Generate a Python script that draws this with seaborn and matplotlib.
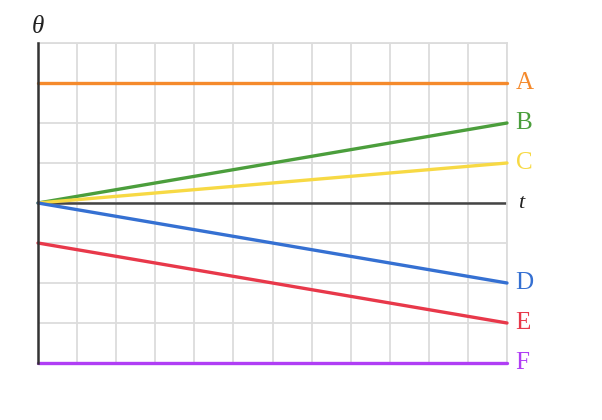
import numpy as np
import pandas as pd
import matplotlib
matplotlib.use('Agg')
import matplotlib.pyplot as plt
import seaborn as sns

# Time span and the start/end angle of each line
t_span = [0, 12]
names = ['A', 'B', 'C', 'D', 'E', 'F']
theta_start = [3, 0, 0, 0, -1, -4]
theta_end = [3, 2, 1, -2, -3, -4]
colors = ['#f58a2c', '#4b9e3c', '#f7d944', '#3570d2', '#e8384a', '#b03ef5']

rows = []
for name, a, b in zip(names, theta_start, theta_end):
    rows.append({'t': t_span[0], 'theta': a, 'name': name})
    rows.append({'t': t_span[1], 'theta': b, 'name': name})
df = pd.DataFrame(rows)

sns.set_style('whitegrid')
plt.rcParams['font.family'] = ['Liberation Serif', 'DejaVu Serif']

fig = plt.figure(figsize=(6.02, 4.2), dpi=100)
ax = fig.add_axes([38 / 602, 57 / 420, 469 / 602, 320 / 420])

sns.lineplot(data=df, x='t', y='theta', hue='name', palette=colors,
             linewidth=2.4, legend=False, ax=ax, zorder=3)
for line in ax.get_lines():
    line.set_clip_on(False)

ax.set_xlim(0, 12)
ax.set_ylim(-4, 4)
ax.set_xticks(np.arange(0, 13, 1))
ax.set_yticks(np.arange(-4, 5, 1))
ax.set_xticklabels([])
ax.set_yticklabels([])
ax.tick_params(length=0)
ax.set_xlabel('')
ax.set_ylabel('')
ax.grid(True, color='#dcdcdc', linewidth=1.3)

for side in ['top', 'right', 'bottom']:
    ax.spines[side].set_color('#dcdcdc')
    ax.spines[side].set_linewidth(1.3)
ax.spines['left'].set_color('#333333')
ax.spines['left'].set_linewidth(1.8)
ax.spines['left'].set_zorder(4)
ax.axhline(0, color='#444444', linewidth=1.8, zorder=2)

for name, b, c in zip(names, theta_end, colors):
    ax.text(12.22, b, name, color=c, fontsize=18, va='center', ha='left',
            clip_on=False)

ax.text(12.28, 0, 't', fontsize=16, style='italic', va='center', ha='left',
        color='#222222')
ax.text(0, 4.12, 'θ', fontsize=18, style='italic', va='bottom', ha='center',
        color='#222222')

fig.savefig('out.png', dpi=100)
